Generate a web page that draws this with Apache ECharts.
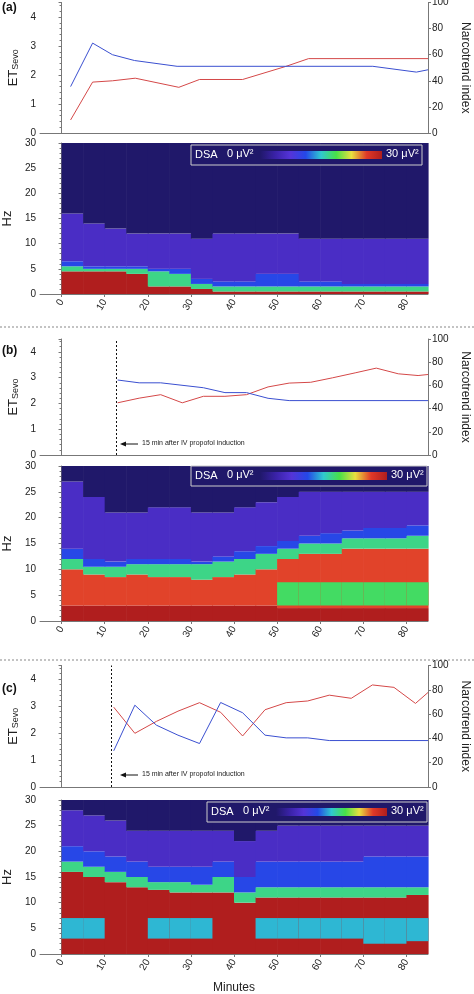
<!DOCTYPE html>
<html>
<head>
<meta charset="utf-8">
<script src="https://cdn.jsdelivr.net/npm/echarts@6/dist/echarts.min.js"></script>
<style>html,body{margin:0;padding:0;background:#fff}#main{width:474px;height:994px}</style>
</head>
<body>
<div id="main"></div>
<script>
// line data: [minute, value]
var etA = [[2.1,1.6],[7.2,3.1],[11.8,2.7],[16.9,2.5],[26.8,2.3],[72.2,2.3],[82.3,2.1],[85,2.18]];
var ncA = [[2.1,10],[7.2,39],[11.8,40],[17.1,42],[27.2,35],[32,41],[42,41],[52,51],[57.3,57],[85,57]];
var etB = [[13,2.91],[18,2.8],[23,2.8],[32.9,2.61],[37.9,2.42],[42.9,2.42],[47.9,2.2],[52.8,2.11],[85,2.11]];
var ncB = [[13,45],[18,49],[23,52],[28,45],[32.9,50.6],[37.9,50.6],[42.9,52],[47.9,58.7],[52.8,62],[57.8,62.7],[62.8,66.5],[68.1,70.8],[73,74.9],[78.1,70],[82.7,68.5],[85,69.4]];
var etC = [[12.1,1.34],[17,3.03],[22,2.29],[27,1.92],[32,1.61],[36.9,3.13],[42,2.75],[47.2,1.92],[52.1,1.82],[57.1,1.82],[62.1,1.72],[85,1.72]];
var ncC = [[12.1,65.7],[17,44.2],[22,54],[27,62.4],[32,69.4],[36.9,61.5],[42,42],[47.2,63.6],[52.1,69.4],[57.1,70.8],[62.1,75.6],[67.2,73],[72.1,84],[77.1,82],[82.1,68.8],[85,77.8]];
var markB = 12.8, markC = 11.6;

// spectrogram band edges (Hz), one value per 5-minute column 0..85
var colMinutes = 5;
var aRed    = [4.5,4.5,4.5,4,1.5,1.5,1,0.5,0.5,0.5,0.5,0.5,0.5,0.5,0.5,0.5,0.5];
var aGreen  = [5.5,5,5,5,4.5,4,2,1.5,1.5,1.5,1.5,1.5,1.5,1.5,1.5,1.5,1.5];
var aBlue   = [6.5,5.5,5.5,5.5,5,5,3,2.5,2.5,4,4,2.5,2.5,2,2,2,2];
var aPurple = [16,14,13,12,12,12,11,12,12,12,12,11,11,11,11,11,11];

var bDeep   = [3,3,3,3,3,3,3,3,3,3,2.5,2.5,2.5,2.5,2.5,2.5,2.5];
var bRed    = [10,9,8.5,9,8.5,8.5,8,8.5,9,10,12,13,13,14,14,14,14];
var bGreen  = [12,10.5,10.5,11,11,11,11,11.5,12,13,14,15,15,16,16,16,16.5];
var bBlue   = [14,12,11.5,12,12,12,11.5,12.5,13.5,14.5,15.5,16.5,17,17.5,18,18,18.5];
var bPurple = [27,24,21,21,22,22,21,21,22,23,24,25,25,25,25,25,25];
var bHoleLo = [0,0,0,0,0,0,0,0,0,0,3,3,3,3,3,3,3];
var bHoleHi = [0,0,0,0,0,0,0,0,0,0,7.5,7.5,7.5,7.5,7.5,7.5,7.5];

var cRed    = [16,15,14,13,12.5,12,12,12,10,11,11,11,11,11,11,11,11.5];
var cGreen  = [18,17,16,15,14,14,13.5,15,12,13,13,13,13,13,13,13,13];
var cBlue   = [21,20,19,18,17,17,17,18,15,18,18,18,18,18,19,19,19];
var cPurple = [28,27,26,24,24,24,24,24,22,24,25,25,25,25,25,25,25];
var cHoleLo = [3,3,0,0,3,3,3,0,0,3,3,3,3,3,2,2,2.5];
var cHoleHi = [7,7,0,0,7,7,7,0,0,7,7,7,7,7,7,7,7];

var xTicks = [0,10,20,30,40,50,60,70,80];

// power levels for each band
var P_BG = 0, P_PURPLE = 6, P_BLUE = 11, P_GREEN = 17, P_RED = 26, P_DEEP = 30;
var holeLevels = [0, 18, 14.5];

function buildCells(deep, red, green, blue, purple, holeLo, holeHi, holeP) {
    var out = [];
    for (var i = 0; i < red.length; i++) {
        var t0 = i * colMinutes, t1 = t0 + colMinutes;
        var d = deep ? deep[i] : red[i];
        out.push([t0, t1, 0, d, P_DEEP]);
        if (deep) out.push([t0, t1, d, red[i], P_RED]);
        out.push([t0, t1, red[i], green[i], P_GREEN]);
        out.push([t0, t1, green[i], blue[i], P_BLUE]);
        out.push([t0, t1, blue[i], purple[i], P_PURPLE]);
        out.push([t0, t1, purple[i], 30, P_BG]);
        if (holeLo && holeHi[i] > holeLo[i]) out.push([t0, t1, holeLo[i], holeHi[i], holeP]);
    }
    return out;
}
var cellsA = buildCells(null, aRed, aGreen, aBlue, aPurple);
var cellsB = buildCells(bDeep, bRed, bGreen, bBlue, bPurple, bHoleLo, bHoleHi, holeLevels[1]);
var cellsC = buildCells(null, cRed, cGreen, cBlue, cPurple, cHoleLo, cHoleHi, holeLevels[2]);

var dsaColors = ['#20186a','#3a22a8','#5434d8','#2448e8','#30c8d0','#48e048','#e8e040','#e03828','#b01e1e'];
var chart = echarts.init(document.getElementById('main'));

var L = 40, R = 46;
var lineGrids = [{top: 2.5, h: 130.5}, {top: 339, h: 116}, {top: 665.5, h: 121.5}];
var heatGrids = [{top: 143, h: 151}, {top: 466, h: 155}, {top: 800, h: 154}];
var grids = [], xAxes = [], yAxes = [], series = [], vms = [];
var axisGray = {lineStyle: {color: '#777'}};

lineGrids.forEach(function (g, k) {
    grids.push({left: L, right: R, top: g.top, height: g.h, outerBoundsMode: 'none', containLabel: false});
    xAxes.push({gridIndex: k * 2, type: 'value', min: -5, max: 85, axisLine: axisGray, axisTick: {show: false}, axisLabel: {show: false}, splitLine: {show: false}});
    yAxes.push({gridIndex: k * 2, type: 'value', min: 0, max: 4.5, interval: 1, position: 'left',
        axisLine: {show: true, lineStyle: {color: '#777'}}, axisTick: {show: true, length: 3},
        minorTick: {show: true, splitNumber: 5, length: 2}, splitLine: {show: false},
        axisLabel: {color: '#222', fontSize: 10, margin: 4, formatter: function (v) { return v % 1 === 0 ? v : ''; }},
        name: '{a|ET}{b|Sevo}', nameLocation: 'middle', nameRotate: 90, nameGap: 20,
        nameTextStyle: {rich: {a: {fontSize: 13, color: '#222'}, b: {fontSize: 9, color: '#222', padding: [4, 0, 0, 0]}}}});
    yAxes.push({gridIndex: k * 2, type: 'value', min: 0, max: 100, interval: 20, position: 'right',
        axisLine: {show: true, lineStyle: {color: '#777'}}, axisTick: {show: true, length: 3},
        splitLine: {show: false}, axisLabel: {color: '#222', fontSize: 10, margin: 4},
        name: 'Narcotrend index', nameLocation: 'middle', nameRotate: -90, nameGap: 26,
        nameTextStyle: {fontSize: 12, color: '#222'}});
    grids.push({left: L, right: R, top: heatGrids[k].top, height: heatGrids[k].h, outerBoundsMode: 'none', containLabel: false});
    xAxes.push({gridIndex: k * 2 + 1, type: 'value', min: -5, max: 85, interval: 10,
        axisLine: axisGray, axisTick: {show: true, length: 3, customValues: xTicks},
        minorTick: {show: true, splitNumber: 2, length: 2}, splitLine: {show: false},
        axisLabel: {color: '#222', fontSize: 10, rotate: 60, margin: 6, customValues: xTicks},
        name: k === 2 ? 'Minutes' : '', nameLocation: 'middle', nameGap: 28, nameTextStyle: {fontSize: 12, color: '#222'}});
    yAxes.push({gridIndex: k * 2 + 1, type: 'value', min: 0, max: 30, interval: 5,
        axisLine: {show: true, lineStyle: {color: '#777'}}, axisTick: {show: true, length: 3},
        minorTick: {show: true, splitNumber: 5, length: 2}, splitLine: {show: false},
        axisLabel: {color: '#222', fontSize: 10, margin: 4},
        name: 'Hz', nameLocation: 'middle', nameRotate: 90, nameGap: 20, nameTextStyle: {fontSize: 13, color: '#222'}});
});

var lineSets = [[etA, ncA, null], [etB, ncB, markB], [etC, ncC, markC]];
var cellSets = [cellsA, cellsB, cellsC];
lineSets.forEach(function (s, k) {
    var blue = {type: 'line', xAxisIndex: k * 2, yAxisIndex: k * 3, data: s[0], symbol: 'none',
        lineStyle: {color: '#3a4fd0', width: 1}, z: 3};
    if (s[2] !== null) {
        blue.markLine = {symbol: 'none', silent: true, label: {show: false},
            lineStyle: {color: '#111', type: [2, 2], width: 1}, data: [{xAxis: s[2]}]};
    }
    series.push(blue);
    series.push({type: 'line', xAxisIndex: k * 2, yAxisIndex: k * 3 + 1, data: s[1], symbol: 'none',
        lineStyle: {color: '#d44848', width: 1}, z: 2});
    series.push({type: 'custom', xAxisIndex: k * 2 + 1, yAxisIndex: k * 3 + 2, data: cellSets[k],
        encode: {x: [0, 1], y: [2, 3]}, z: 1,
        renderItem: function (params, api) {
            var p0 = api.coord([api.value(0), api.value(3)]);
            var p1 = api.coord([api.value(1), api.value(2)]);
            return {type: 'rect', shape: {x: p0[0], y: p0[1], width: p1[0] - p0[0] + 0.6, height: p1[1] - p0[1]},
                style: {fill: api.visual('color')}};
        }});
    vms.push({show: false, type: 'continuous', seriesIndex: series.length - 1, dimension: 4, min: 0, max: 30,
        inRange: {color: dsaColors}});
});

// DSA colour-scale boxes (absolute pixel positions)
function dsaBox(x, y, w) {
    var grad = new echarts.graphic.LinearGradient(0, 0, 1, 0,
        dsaColors.map(function (c, i) { return {offset: i / (dsaColors.length - 1), color: c}; }));
    return [
        {type: 'rect', z: 50, shape: {x: x, y: y, width: w, height: 20}, style: {fill: '#20186a', stroke: '#ccc', lineWidth: 1}},
        {type: 'text', z: 51, x: x + 4, y: y + 4, style: {text: 'DSA', fill: '#fff', font: '11px Liberation Sans'}},
        {type: 'text', z: 51, x: x + 36, y: y + 3, style: {text: '0 μV²', fill: '#fff', font: '11px Liberation Sans'}},
        {type: 'rect', z: 51, shape: {x: x + 69, y: y + 6, width: w - 109, height: 8}, style: {fill: grad}},
        {type: 'text', z: 51, x: x + w - 36, y: y + 3, style: {text: '30 μV²', fill: '#fff', font: '11px Liberation Sans'}}
    ];
}
function noteArrow(y) {
    return [
        {type: 'line', z: 50, shape: {x1: 123, y1: y, x2: 138, y2: y}, style: {stroke: '#111', lineWidth: 1}},
        {type: 'polygon', z: 50, shape: {points: [[120, y], [126, y - 2.5], [126, y + 2.5]]}, style: {fill: '#111'}},
        {type: 'text', z: 50, x: 142, y: y - 4, style: {text: '15 min after IV propofol induction', fill: '#222', font: '7px Liberation Sans'}}
    ];
}
function sep(y) {
    return {type: 'line', shape: {x1: 0, y1: y, x2: 474, y2: y}, style: {stroke: '#888', lineWidth: 1, lineDash: [2, 2]}};
}
function label(t, y) { return {type: 'text', x: 2, y: y, style: {text: t, fill: '#111', font: 'bold 12px Liberation Sans'}}; }

chart.setOption({
    animation: false,
    grid: grids, xAxis: xAxes, yAxis: yAxes, series: series, visualMap: vms,
    graphic: [].concat(
        dsaBox(191, 145, 231), dsaBox(191, 466, 236), dsaBox(207, 802, 220),
        noteArrow(444), noteArrow(775),
        [sep(327), sep(660), label('(a)', 2), label('(b)', 345), label('(c)', 683)]
    )
});
</script>
</body>
</html>
